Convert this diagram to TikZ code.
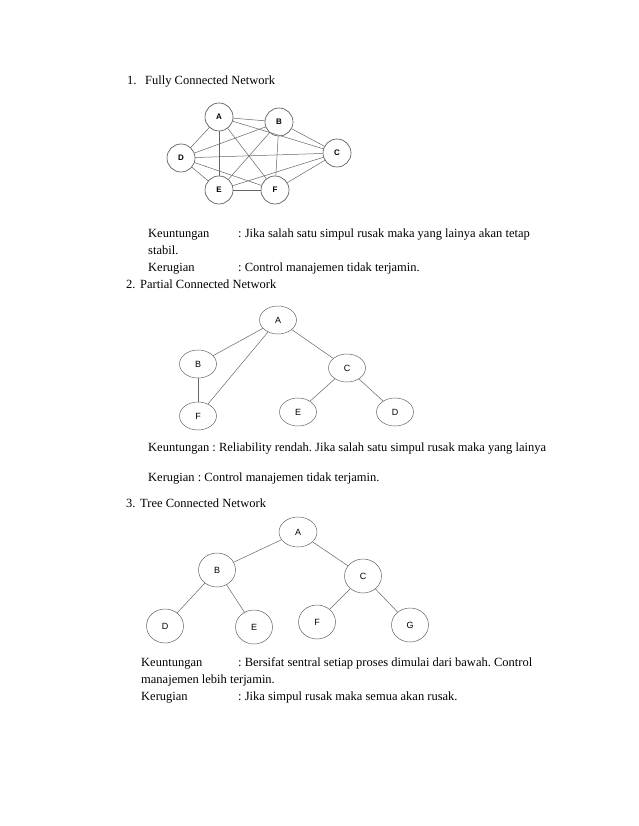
\documentclass[tikz,border=0pt]{standalone}
\usepackage{fontspec}
\setmainfont{Liberation Serif}
\newfontfamily\lblfont{Liberation Sans}
\usetikzlibrary{shapes.geometric}
\frenchspacing
\begin{document}
\begin{tikzpicture}[x=1pt,y=-1pt,
  txt/.style={anchor=base west, inner sep=0pt, font=\fontsize{12.5}{14}\selectfont},
  fnode/.style={circle, draw=black!70, line width=0.6pt, minimum size=28pt, inner sep=0pt, font=\lblfont\bfseries\fontsize{8}{9}\selectfont},
  enode/.style={ellipse, draw=black!60, line width=0.5pt, minimum width=37pt, minimum height=28pt, inner sep=0pt, font=\lblfont\fontsize{9}{10}\selectfont},
  tnode/.style={enode, minimum height=34pt},
  link/.style={draw=black!60, line width=0.5pt}]
\useasboundingbox[fill=white] (0,0) rectangle (638,826);

% ---------- texts ----------
\node[txt] (t1n) at (127,85) {1.};
\node[txt] (t1) at (145,85) {Fully Connected Network};
\node[txt] (k1) at (148,237) {Keuntungan};
\node[txt] (k1t) at (238,237) {: Jika salah satu simpul rusak maka yang lainya akan tetap};
\node[txt] (k1s) at (148,254) {stabil.};
\node[txt] (r1) at (148,271) {Kerugian};
\node[txt] (r1t) at (238,271) {: Control manajemen tidak terjamin.};
\node[txt] (t2n) at (126,288) {2.};
\node[txt] (t2) at (140,288) {Partial Connected Network};
\node[txt] (k2) at (148,451) {Keuntungan : Reliability rendah. Jika salah satu simpul rusak maka yang lainya};
\node[txt] (r2) at (148,481) {Kerugian : Control manajemen tidak terjamin.};
\node[txt] (t3n) at (126,507) {3.};
\node[txt] (t3) at (140,507) {Tree Connected Network};
\node[txt] (k3) at (141,666) {Keuntungan};
\node[txt] (k3t) at (238,666) {: Bersifat sentral setiap proses dimulai dari bawah. Control};
\node[txt] (k3m) at (141,683) {manajemen lebih terjamin.};
\node[txt] (r3) at (141,700) {Kerugian};
\node[txt] (r3t) at (238,700) {: Jika simpul rusak maka semua akan rusak.};

% ---------- network 1: fully connected ----------
\node[fnode] (n1A) at (219,117) {A};
\node[fnode] (n1B) at (279,122) {B};
\node[fnode] (n1C) at (337,153) {C};
\node[fnode] (n1D) at (181,158) {D};
\node[fnode] (n1E) at (219,190) {E};
\node[fnode] (n1F) at (275,190) {F};
\foreach \a/\b in {A/B,A/C,A/D,A/E,A/F,B/C,B/D,B/E,B/F,C/D,C/E,C/F,D/E,D/F,E/F}
  \draw[link] (n1\a) -- (n1\b);

% ---------- network 2: partial ----------
\node[enode] (n2A) at (278,320) {A};
\node[enode] (n2B) at (198,364) {B};
\node[enode] (n2C) at (347,368) {C};
\node[enode] (n2E) at (298,412) {E};
\node[enode] (n2D) at (395,412) {D};
\node[enode] (n2F) at (198,416) {F};
\foreach \a/\b in {A/B,A/F,A/C,B/F,C/E,C/D}
  \draw[link] (n2\a) -- (n2\b);

% ---------- network 3: tree ----------
\node[tnode, minimum width=38pt, minimum height=30pt] (n3A) at (298,532) {A};
\node[tnode] (n3B) at (217,570) {B};
\node[tnode] (n3C) at (363,576) {C};
\node[tnode] (n3D) at (165,626) {D};
\node[tnode] (n3E) at (254,627) {E};
\node[tnode] (n3F) at (317,622) {F};
\node[tnode] (n3G) at (410,625) {G};
\foreach \a/\b in {A/B,A/C,B/D,B/E,C/F,C/G}
  \draw[link] (n3\a) -- (n3\b);
\end{tikzpicture}
\end{document}
